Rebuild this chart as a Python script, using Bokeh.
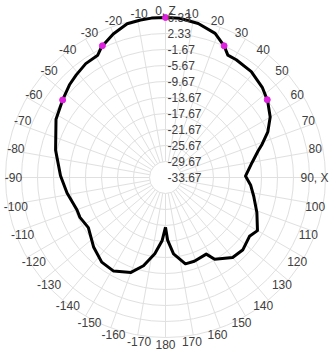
import numpy as np
from bokeh.plotting import figure
from bokeh.models import Range1d, ColumnDataSource
from bokeh.core.properties import value
from bokeh.embed import file_html
from bokeh.resources import INLINE

# ---- data (angle in degrees, gain in dB) ----
angles = [-180, -177, -172, -166, -160, -151, -143, -134, -123, -115, -110, -99, -89, -76,
          -62, -53, -46, -41, -35, -29, -26, -20, -14, -9, -5, 0, 5, 12, 19, 24, 27, 31, 39,
          47, 53, 60, 66, 71, 74, 80, 89, 95, 102, 111, 120, 125, 133, 140, 149, 152, 161,
          167, 174, 178, 180]
gain_db = [-21.25, -17.92, -14.42, -10.92, -8.42, -6.92, -7.17, -8.67, -10.67, -10.07, -10.1,
           -8.75, -7.42, -5.35, -2.67, -1.47, -0.3, 0.33, 1.08, 1.28, 2.73, 4.53, 5.93, 6.2,
           6.33, 6.33, 6.3, 5.7, 4.43, 2.36, 0.66, 0.66, 0.41, -0.6, -1.72, -3.45, -5.67,
           -8.12, -9.6, -11.65, -13.67, -12.32, -11.12, -9.2, -7.12, -8.04, -7.2, -7.57,
           -9.8, -11.97, -11.52, -11.52, -14.47, -17.92, -21.25]
marker_angles = [-53, -25.6, 0, 24, 52.6]
radial_ticks = [6.33, 2.33, -1.67, -5.67, -9.67, -13.67, -17.67, -21.67, -25.67, -29.67, -33.67]
angle_ticks = list(range(-170, 181, 10))
angle_labels = ["0, Z" if a == 0 else "90, X" if a == 90 else str(a) for a in angle_ticks]

R_MIN = -33.67
R_MAX = 6.33
PX = 4.0  # pixels per dB

W, H = 329, 358
CX, CY = 165, 177

p = figure(width=W, height=H, output_backend="svg", toolbar_location=None,
           x_range=Range1d(-CX / PX, (W - CX) / PX),
           y_range=Range1d(-(H - CY) / PX, CY / PX),
           min_border=0)
p.axis.visible = False
p.grid.visible = False
p.outline_line_color = None
p.background_fill_color = "white"
p.border_fill_color = "white"

grid_col = "#e0e0e0"
# grid circles
radii = [t - R_MIN for t in radial_ticks if t > R_MIN]
p.circle(x=[0] * len(radii), y=[0] * len(radii), radius=radii,
         fill_color=None, line_color=grid_col, line_width=1)

# spokes
rmax = R_MAX - R_MIN
r0 = radii[-1]
th = np.radians(np.arange(0, 360, 10))
p.segment(x0=r0 * np.sin(th), y0=r0 * np.cos(th), x1=rmax * np.sin(th), y1=rmax * np.cos(th),
          line_color=grid_col, line_width=1)

# curve
a = np.radians(np.array(angles, dtype=float))
r = np.array(gain_db) - R_MIN
p.line(r * np.sin(a), r * np.cos(a), line_color="black", line_width=3, line_join="round")

# markers
mg = np.interp(marker_angles, angles, gain_db)
ma = np.radians(np.array(marker_angles))
mr = mg - R_MIN
p.scatter(mr * np.sin(ma), mr * np.cos(ma), marker="circle", size=6,
          fill_color="#e020e0", line_color="#e020e0")

# radial labels
p.text(x=[0.5] * len(radial_ticks), y=[t - R_MIN for t in radial_ticks],
       text=[f"{t:.2f}" for t in radial_ticks], text_align="left", text_baseline="middle",
       text_font=value("Liberation Sans"), text_font_size="12px", text_color="#404040")

# angle labels (placed on a slightly flattened ring so side labels fit)
LRX = 152 / PX
LRY = 167 / PX
xs, ys, txt, aligns = [], [], [], []
for ang, lab in zip(angle_ticks, angle_labels):
    t = np.radians(ang)
    x = LRX * np.sin(t)
    y = LRY * np.cos(t)
    al = "center"
    if ang == 90:
        x = (W - CX - 1) / PX
        al = "right"
    xs.append(x); ys.append(y); txt.append(lab); aligns.append(al)
src = ColumnDataSource(dict(x=xs, y=ys, text=txt, align=aligns))
p.text(x="x", y="y", text="text", source=src, text_align="align", text_baseline="middle",
       text_font=value("Liberation Sans"), text_font_size="12px", text_color="#404040")

open("out.html", "w").write(file_html(p, INLINE))
